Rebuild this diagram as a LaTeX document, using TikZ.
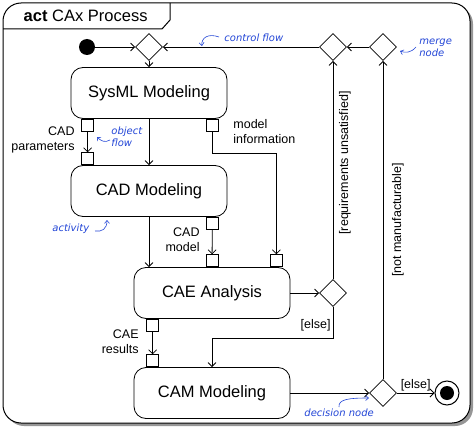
\documentclass[tikz,border=0pt]{standalone}
\usepackage{fontspec}
\setmainfont{Liberation Sans}
\newfontfamily\handfont{DejaVu Sans}
\usetikzlibrary{arrows.meta, positioning, shapes.geometric}
\definecolor{noteblue}{RGB}{35, 70, 215}
\definecolor{shadowgray}{RGB}{150, 150, 150}

\begin{document}
\begin{tikzpicture}[x=1pt, y=-1pt, line width=0.8pt,
  actbox/.style={draw, rounded corners=12pt, minimum width=156pt, minimum height=51pt, font=\fontsize{16.5}{18}\selectfont},
  pinbox/.style={draw, minimum size=12pt, inner sep=0pt},
  choice/.style={draw, diamond, minimum size=27pt, inner sep=0pt},
  flow/.style={-{Straight Barb[length=4pt, width=8pt]}},
  lbl/.style={font=\fontsize{12.5}{15}\selectfont, inner sep=1pt},
  guard/.style={font=\fontsize{12.5}{15}\selectfont, inner sep=2pt},
  note/.style={noteblue, font=\handfont\itshape\fontsize{10}{12}\selectfont, align=left, inner sep=0pt},
  notearrow/.style={noteblue, line width=0.6pt, -{Straight Barb[length=3pt, width=5pt]}}]
  \useasboundingbox (0,0) rectangle (474,428);

  % Frame with shadow
  \fill[shadowgray, rounded corners=18pt] (6,6) rectangle (473,426);
  \draw[fill=white, rounded corners=18pt, line width=1pt] (3,3) rectangle (470,423);
  % Title tab
  \draw[line width=1pt] (170,3) -- (170,20) -- (162,29) -- (3,29);
  \node[font=\fontsize{16.5}{18}\selectfont, anchor=west] (title) at (20,16) {\textbf{act} CAx Process};

  % Control nodes
  \node[circle, fill, minimum size=16pt, inner sep=0pt] (start) at (87,47) {};
  \node[choice] (merge1) at (149,47) {};
  \node[choice] (mergeA) at (333,47) {};
  \node[choice] (mergeB) at (383,47) {};
  \node[choice] (dec1) at (333,293) {};
  \node[choice] (dec2) at (383,393) {};
  \node[circle, draw, line width=1pt, minimum size=24pt, inner sep=0pt] (final) at (447,393) {};
  \fill (final) circle (7pt);

  % Activities
  \node[actbox] (sysml) at (149,93) {SysML Modeling};
  \node[actbox] (cad) at (149,191) {CAD Modeling};
  \node[actbox] (cae) at (212,293) {CAE Analysis};
  \node[actbox] (cam) at (212,393) {CAM Modeling};

  % Pins
  \node[pinbox, anchor=north] (sysmlL) at ([xshift=17pt]sysml.south west) {};
  \node[pinbox, anchor=north] (sysmlR) at ([xshift=-15pt]sysml.south east) {};
  \node[pinbox, anchor=south] (cadIn) at ([xshift=17pt]cad.north west) {};
  \node[pinbox, anchor=north] (cadOut) at ([xshift=-15pt]cad.south east) {};
  \node[pinbox, anchor=south] (caeIn) at (cae.north) {};
  \node[pinbox, anchor=south] (caeInR) at ([xshift=-14pt]cae.north east) {};
  \node[pinbox, anchor=north] (caeOut) at ([xshift=19pt]cae.south west) {};
  \node[pinbox, anchor=south] (camIn) at ([xshift=19pt]cam.north west) {};

  % Pin labels
  \node[lbl, anchor=east, align=right] (cadpar) at (76,140) {CAD\\parameters};
  \node[lbl, anchor=west, align=left] (modinf) at (232,132) {model\\information};
  \node[lbl, anchor=east, align=right] (cadmod) at (201,240) {CAD\\model};
  \node[lbl, anchor=east, align=right] (caeres) at (140,342) {CAE\\results};

  % Guards
  \node[guard, rotate=90] (grequ) at (345,163) {[requirements unsatisfied]};
  \node[guard, rotate=90] (gmanu) at (398,220) {[not manufacturable]};

  % Control flows
  \draw[flow] (start) -- (merge1);
  \draw[flow] (merge1) -- (sysml);
  \draw[flow] (sysml) -- (cad);
  \draw[flow] (cad.south) -- (cad.south |- cae.north);
  \draw[flow] (cae) -- (dec1);
  \draw[flow] (dec1) -- (mergeA);
  \draw[flow] (dec1.south) -- node[guard, pos=0.6, anchor=east] {[else]} ++(0,31) -| (cam.north);
  \draw[flow] (cam) -- (dec2);
  \draw[flow] (dec2) -- (mergeB);
  \draw[flow] (mergeB) -- (mergeA);
  \draw[flow] (mergeA) -- (merge1);
  \draw[flow] (dec2) -- node[guard, above] {[else]} (final);

  % Object flows
  \draw[flow] (sysmlL) -- (cadIn);
  \draw[flow] (sysmlR.south) -- ++(0,22) -| (caeInR.north);
  \draw[flow] (cadOut) -- (caeIn);
  \draw[flow] (caeOut) -- (camIn);

  % Annotations
  \node[note, anchor=west] (ncf) at (224,38) {control flow};
  \draw[notearrow] (219,37) .. controls (208,33) and (201,38) .. (202,46);
  \node[note, anchor=west] (nmerge) at (419,48) {merge\\node};
  \draw[notearrow] (416,47) .. controls (411,53) and (405,53) .. (400,51);
  \node[note, anchor=west] (nobj) at (111,137) {object\\flow};
  \draw[notearrow] (110,140) .. controls (105,143) and (101,141) .. (97,137);
  \node[note, anchor=west] (nact) at (52,229) {activity};
  \draw[notearrow] (95,231) .. controls (102,232) and (107,229) .. (107,220);
  \node[note, anchor=west] (ndec) at (304,413) {decision node};
  \draw[notearrow] (339,407) .. controls (338,399) and (350,398) .. (369,398);
\end{tikzpicture}
\end{document}
